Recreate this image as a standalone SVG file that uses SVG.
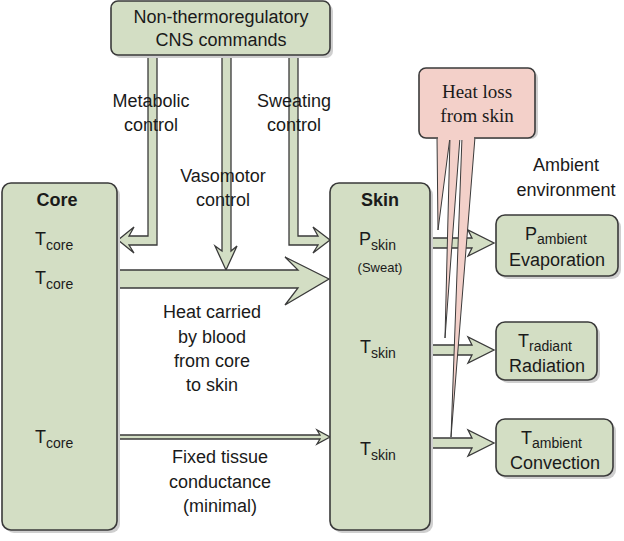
<svg xmlns="http://www.w3.org/2000/svg" width="624" height="541" viewBox="0 0 624 541">
<style>
.box{fill:#d3dec4;stroke:#3a3a3a;stroke-width:1.6}
.sh{fill:#cfcfcf}
.pink{fill:#f3d0c9;stroke:#3a3a3a;stroke-width:1.6}
.arr{fill:#d3dec4;stroke:#3a3a3a;stroke-width:1.3;stroke-linejoin:miter}
text{font-family:"Liberation Sans",Arial,sans-serif;fill:#1a1a1a}
.t{font-size:18px}
.s{font-size:14px}
.ss{font-size:13px}
.b{font-size:18px;font-weight:bold}
.serif{font-family:"Liberation Serif","Times New Roman",serif;font-size:19px}
</style>
<rect width="624" height="541" fill="#fff"/>
<g id="connectors">
<polygon class="arr" points="148,55 157,55 157,245 129,245 134,253 118,240 134,227 129,236 148,236"/>
<polygon class="arr" points="222,55 231,55 231,251 237,246 226,270 215,246 222,251"/>
<polygon class="arr" points="289,55 298,55 298,236 318,236 313,227 330,240 313,253 318,245 289,245"/>
<polygon class="arr" points="117,270 298,270 285,257 329,279 285,305 298,288 117,288"/>
<polygon class="arr" points="117,435 320,435 317,430 330,437 317,444 320,439 117,439"/>
<polygon class="arr" points="430,238 472,238 468,230 494,243 468,256 472,248 430,248"/>
<polygon class="arr" points="430,345 472,345 468,337 494,350 468,363 472,355 430,355"/>
<polygon class="arr" points="430,438 472,438 468,430 494,443 468,456 472,448 430,448"/>
</g>
<g id="top">
<rect class="sh" x="114" y="4" width="219" height="54" rx="7"/>
<rect class="box" x="111" y="1" width="219" height="54" rx="7"/>
<text class="t" x="221" y="23" text-anchor="middle">Non-thermoregulatory</text>
<text class="t" x="221" y="46" text-anchor="middle">CNS commands</text>
</g>
<g id="labels">
<text class="t" x="151" y="107" text-anchor="middle">Metabolic</text>
<text class="t" x="151" y="131" text-anchor="middle">control</text>
<text class="t" x="294" y="107" text-anchor="middle">Sweating</text>
<text class="t" x="294" y="131" text-anchor="middle">control</text>
<text class="t" x="223" y="182" text-anchor="middle">Vasomotor</text>
<text class="t" x="223" y="206" text-anchor="middle">control</text>
<text class="t" x="212" y="318" text-anchor="middle">Heat carried</text>
<text class="t" x="212" y="343" text-anchor="middle">by blood</text>
<text class="t" x="212" y="367" text-anchor="middle">from core</text>
<text class="t" x="212" y="391" text-anchor="middle">to skin</text>
<text class="t" x="220" y="463" text-anchor="middle">Fixed tissue</text>
<text class="t" x="220" y="488" text-anchor="middle">conductance</text>
<text class="t" x="220" y="512" text-anchor="middle">(minimal)</text>
<text class="t" x="566" y="171" text-anchor="middle">Ambient</text>
<text class="t" x="566" y="196" text-anchor="middle">environment</text>
</g>
<g id="core">
<rect class="sh" x="5" y="186" width="115" height="347" rx="9"/>
<rect class="box" x="2" y="183" width="115" height="347" rx="9"/>
<text class="b" x="57" y="206" text-anchor="middle">Core</text>
<text class="t" x="35" y="245">T<tspan class="s" dy="5">core</tspan></text>
<text class="t" x="35" y="284">T<tspan class="s" dy="5">core</tspan></text>
<text class="t" x="35" y="443">T<tspan class="s" dy="5">core</tspan></text>
</g>
<g id="skin">
<rect class="sh" x="333" y="186" width="100" height="347" rx="9"/>
<rect class="box" x="330" y="183" width="100" height="347" rx="9"/>
<text class="b" x="380" y="206" text-anchor="middle">Skin</text>
<text class="t" x="359" y="245">P<tspan class="s" dy="5">skin</tspan></text>
<text class="ss" x="380" y="272" text-anchor="middle">(Sweat)</text>
<text class="t" x="360" y="353">T<tspan class="s" dy="5">skin</tspan></text>
<text class="t" x="360" y="455">T<tspan class="s" dy="5">skin</tspan></text>
</g>
<g id="heatloss">
<polygon fill="#f3d0c9" stroke="#3a3a3a" stroke-width="1" points="437,137 438,230 450,137"/>
<polygon fill="#f3d0c9" stroke="#3a3a3a" stroke-width="1" points="450,137 445,338 460,137"/>
<polygon fill="#f3d0c9" stroke="#3a3a3a" stroke-width="1" points="462,137 451,437 475,137"/>
<rect class="sh" x="422" y="71" width="116" height="68" rx="7"/>
<rect class="pink" x="419" y="68" width="116" height="70" rx="7"/>
<rect fill="#f3d0c9" x="438" y="132" width="36" height="8"/>
<text class="serif" x="477" y="98" text-anchor="middle">Heat loss</text>
<text class="serif" x="477" y="122" text-anchor="middle">from skin</text>
</g>
<g id="evaporation">
<rect class="sh" x="499" y="218" width="122" height="61" rx="9"/>
<rect class="box" x="496" y="215" width="122" height="61" rx="9"/>
<text class="t" x="525" y="240">P<tspan class="s" dy="4">ambient</tspan></text>
<text class="t" x="557" y="266" text-anchor="middle">Evaporation</text>
</g>
<g id="radiation">
<rect class="sh" x="499" y="325" width="101" height="58" rx="9"/>
<rect class="box" x="496" y="322" width="101" height="58" rx="9"/>
<text class="t" x="518" y="347">T<tspan class="s" dy="4">radiant</tspan></text>
<text class="t" x="547" y="372" text-anchor="middle">Radiation</text>
</g>
<g id="convection">
<rect class="sh" x="499" y="422" width="117" height="57" rx="9"/>
<rect class="box" x="496" y="419" width="117" height="57" rx="9"/>
<text class="t" x="521" y="444">T<tspan class="s" dy="4">ambient</tspan></text>
<text class="t" x="555" y="469" text-anchor="middle">Convection</text>
</g>
</svg>
